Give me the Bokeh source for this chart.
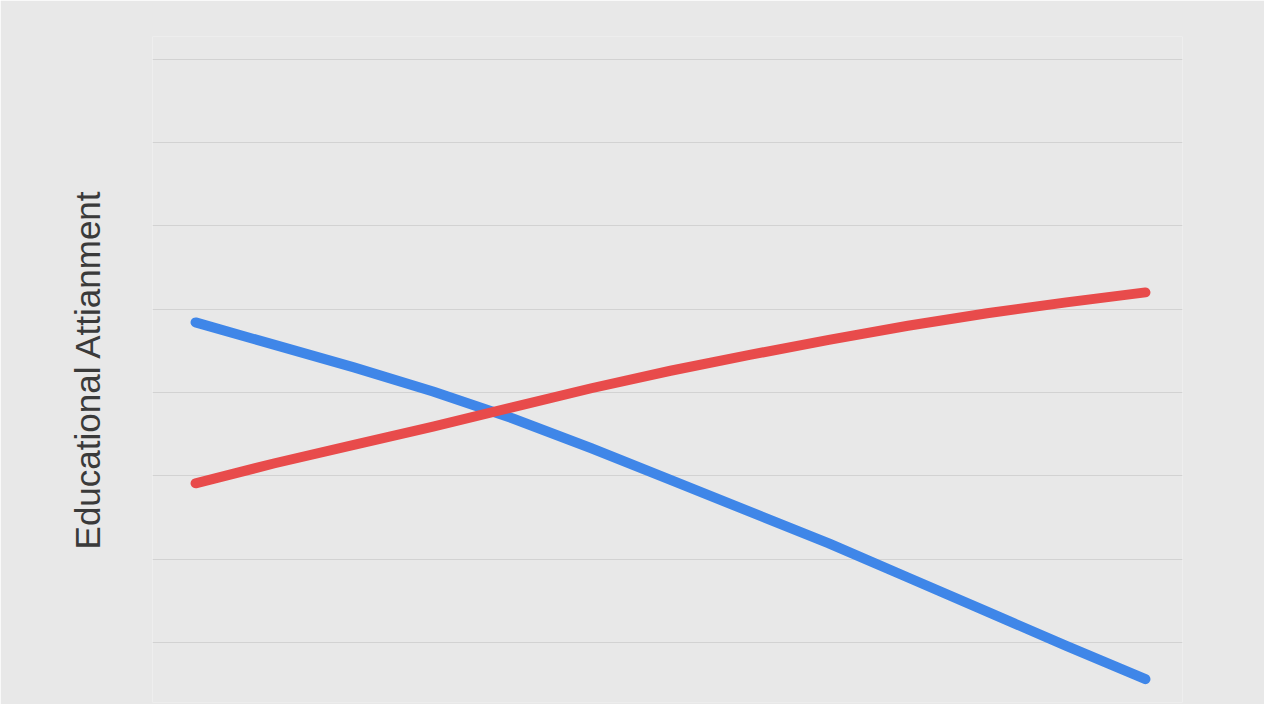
from bokeh.plotting import figure
from bokeh.models import Range1d, FixedTicker
from bokeh.embed import file_html
from bokeh.resources import INLINE

# data (arbitrary units)
step = [0, 0.5, 1, 1.5, 2, 2.5, 3, 3.5, 4, 4.5, 5, 5.5, 6]
blue_vals = [3.84, 3.57, 3.30, 3.01, 2.69, 2.33, 1.95, 1.57, 1.19, 0.78, 0.37, -0.04, -0.44]
red_vals = [1.91, 2.15, 2.37, 2.59, 2.82, 3.05, 3.26, 3.45, 3.63, 3.80, 3.95, 4.08, 4.20]
grid_ticks = [0, 1, 2, 3, 4, 5, 6, 7]

bg = "#e8e8e8"

p = figure(width=1264, height=704, output_backend="svg", toolbar_location=None,
           x_range=Range1d(-0.272, 6.234), y_range=Range1d(-0.72, 7.27),
           x_axis_location=None,
           min_border_left=152, min_border_right=82, min_border_top=36, min_border_bottom=2)

p.background_fill_color = bg
p.border_fill_color = bg
p.outline_line_color = None

# y axis: only the label is shown, the grid keeps its own ticks
p.yaxis.ticker = FixedTicker(ticks=[])
p.yaxis.axis_label = "Educational Attianment"
p.yaxis.axis_label_text_font = "Liberation Sans"
p.yaxis.axis_label_text_font_size = "35px"
p.yaxis.axis_label_text_font_style = "normal"
p.yaxis.axis_label_text_color = "#3a3a3a"
p.yaxis.axis_label_standoff = 46
p.yaxis.axis_line_color = None
p.yaxis.major_tick_line_color = None
p.yaxis.minor_tick_line_color = None

p.xgrid.grid_line_color = None
p.ygrid.ticker = FixedTicker(ticks=grid_ticks)
p.ygrid.grid_line_color = "#d2d2d2"
p.ygrid.grid_line_width = 1

p.line(step, blue_vals, line_color="#3f86e8", line_width=10, line_cap="round", line_join="round")
p.line(step, red_vals, line_color="#e84b4b", line_width=10, line_cap="round", line_join="round")

open("out.html", "w").write(file_html(p, INLINE))
